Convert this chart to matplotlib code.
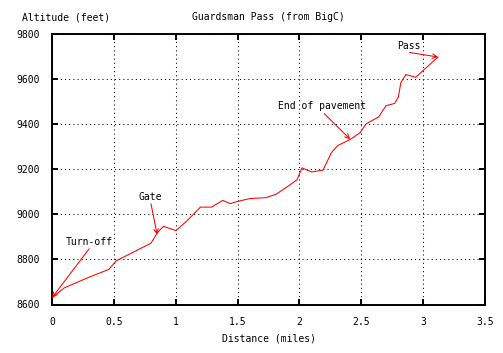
import matplotlib
matplotlib.use("Agg")
import matplotlib.pyplot as plt

plt.rcParams['font.family'] = ['DejaVu Sans Mono']
plt.rcParams['lines.scale_dashes'] = False

# profile
dist = [0, 0.10, 0.29, 0.46, 0.52, 0.80, 0.85, 0.90, 1.00, 1.05, 1.10, 1.20,
        1.29, 1.38, 1.44, 1.49, 1.60, 1.73, 1.81, 1.88, 1.98, 2.02, 2.10, 2.19,
        2.26, 2.31, 2.41, 2.49, 2.54, 2.64, 2.70, 2.77, 2.80, 2.82, 2.86, 2.94,
        3.12]
alt = [8630, 8674, 8719, 8756, 8794, 8872, 8917, 8947, 8928, 8951, 8976, 9032,
       9032, 9062, 9047, 9056, 9070, 9074, 9089, 9114, 9153, 9206, 9188, 9196,
       9275, 9305, 9332, 9362, 9402, 9432, 9482, 9492, 9521, 9585, 9620, 9608,
       9698]

# label text, where the text sits, where the arrow starts and ends
labels = ["Turn-off", "Gate", "End of pavement", "Pass"]
label_xy = [(0.11, 8877), (0.70, 9077), (1.83, 9480), (2.79, 9747)]
arrow_from = [(0.30, 8847), (0.80, 9047), (2.20, 9447), (2.89, 9718)]
arrow_to = [(0.0, 8630), (0.85, 8910), (2.41, 9333), (3.12, 9698)]

xticks = [0, 0.5, 1, 1.5, 2, 2.5, 3, 3.5]
xticklabels = ["0", "0.5", "1", "1.5", "2", "2.5", "3", "3.5"]
yticks = [8600, 8800, 9000, 9200, 9400, 9600, 9800]

fig = plt.figure(figsize=(5.03, 3.53), dpi=100)
ax = fig.add_axes([52 / 503, (353 - 304.5) / 353, 433 / 503, 270.5 / 353])

ax.plot(dist, alt, color='red', lw=0.75)

for txt, (tx, ty), p0, p1 in zip(labels, label_xy, arrow_from, arrow_to):
    ax.text(tx, ty, txt, fontsize=7, va='center', ha='left')
    ax.annotate("", xy=p1, xytext=p0,
                arrowprops=dict(arrowstyle='->', color='red', lw=0.75,
                                shrinkA=0, shrinkB=0, mutation_scale=8))

ax.set_xlim(0, 3.5)
ax.set_ylim(8600, 9800)
ax.set_xticks(xticks)
ax.set_xticklabels(xticklabels)
ax.set_yticks(yticks)
ax.tick_params(direction='in', length=4, width=1.4, labelsize=7,
               top=True, right=True, pad=9)
ax.grid(True, color='black', lw=0.75, linestyle=(0, (0.75, 2.25)))
for s in ax.spines.values():
    s.set_linewidth(1.4)

ax.set_xlabel("Distance (miles)", fontsize=7, labelpad=5)
fig.text(22 / 503, 1 - 17 / 353, "Altitude (feet)", fontsize=7, va='center')
fig.text(268 / 503, 1 - 17 / 353, "Guardsman Pass (from BigC)", fontsize=7,
         va='center', ha='center')

fig.savefig("out.png", dpi=100)
